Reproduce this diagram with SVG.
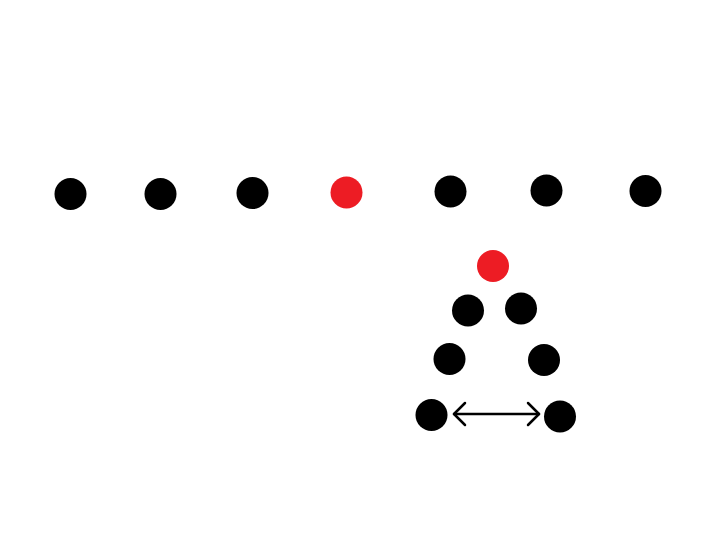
<svg xmlns="http://www.w3.org/2000/svg" width="720" height="540" viewBox="0 0 720 540">
<style>
.b{fill:#000}
.r{fill:#ed1c24}
.c{stroke:#000;stroke-width:2.5;fill:none;stroke-linecap:round;stroke-linejoin:round}
</style>
<rect width="720" height="540" fill="#fff"/>
<g id="n1"><circle class="b" cx="70.5" cy="194" r="16"/></g>
<g id="n2"><circle class="b" cx="160.5" cy="194" r="16"/></g>
<g id="n3"><circle class="b" cx="252.5" cy="193" r="16"/></g>
<g id="n4"><circle class="r" cx="346.5" cy="192.5" r="16"/></g>
<g id="n5"><circle class="b" cx="450.5" cy="191.5" r="16"/></g>
<g id="n6"><circle class="b" cx="546.5" cy="190.5" r="16"/></g>
<g id="n7"><circle class="b" cx="645.5" cy="191" r="16"/></g>
<g id="t1"><circle class="r" cx="493" cy="266" r="16"/></g>
<g id="t2"><circle class="b" cx="468" cy="310.5" r="16"/></g>
<g id="t3"><circle class="b" cx="521" cy="308.5" r="16"/></g>
<g id="t4"><circle class="b" cx="449.5" cy="359" r="16"/></g>
<g id="t5"><circle class="b" cx="544" cy="360" r="16"/></g>
<g id="t6"><circle class="b" cx="431.5" cy="415" r="16"/></g>
<g id="t7"><circle class="b" cx="560" cy="416.5" r="16"/></g>
<g id="connectors">
<path class="c" d="M454 414 H539"/>
<path class="c" d="M465 403 L454 414 L465 425"/>
<path class="c" d="M528 403 L539 414 L528 425"/>
</g>
</svg>
